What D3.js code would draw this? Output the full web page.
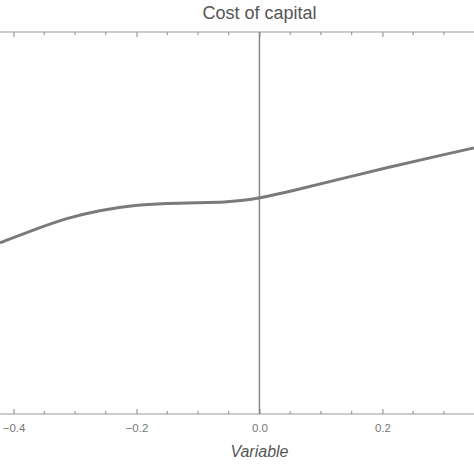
<!DOCTYPE html>
<html>
<head>
<meta charset="utf-8">
<script src="https://cdn.jsdelivr.net/npm/d3@7"></script>
<style>
  body { margin: 0; background: #fff; }
  svg { display: block; font-family: "Liberation Sans", Arial, sans-serif; }
</style>
</head>
<body>
<div id="chart"></div>
<script>
// curve
const xValues = [-0.422, -0.368, -0.313, -0.26, -0.206, -0.15, -0.097, -0.053, -0.032, 0.0, 0.05, 0.131, 0.212, 0.294, 0.349];
const costValues = [0.0669, 0.0689, 0.0708, 0.072, 0.0728, 0.0731, 0.0732, 0.0733, 0.0735, 0.0739, 0.07495, 0.0769, 0.0788, 0.0806, 0.0818];
const majorTicks = [-0.4, -0.2, 0.0, 0.2];
const minorTicks = [-0.4, -0.35, -0.3, -0.25, -0.2, -0.15, -0.1, -0.05, 0, 0.05, 0.1, 0.15, 0.2, 0.25, 0.3];

const W = 474, H = 474;
const plotTop = 32, plotBottom = 414;

const svg = d3.select("#chart").append("svg").attr("width", W).attr("height", H);

const x = d3.scaleLinear().domain([-0.422, 0.349]).range([0, W]);
const y = d3.scaleLinear().domain([0.04, 0.10]).range([plotBottom, plotTop]);

// frame top and bottom
const frameColor = "#999";
svg.append("line").attr("x1", 0).attr("x2", W).attr("y1", plotTop).attr("y2", plotTop)
  .attr("stroke", frameColor).attr("stroke-width", 1.2);
svg.append("line").attr("x1", 0).attr("x2", W).attr("y1", plotBottom).attr("y2", plotBottom)
  .attr("stroke", frameColor).attr("stroke-width", 1.2);

// minor ticks (inward) on both frames
const minors = minorTicks.filter(t => !majorTicks.some(m => Math.abs(m - t) < 1e-9));
svg.append("g").selectAll("line").data(minors).enter().append("line")
  .attr("x1", d => x(d)).attr("x2", d => x(d))
  .attr("y1", plotBottom).attr("y2", plotBottom - 3)
  .attr("stroke", frameColor).attr("stroke-width", 1.2);
svg.append("g").selectAll("line").data(minors).enter().append("line")
  .attr("x1", d => x(d)).attr("x2", d => x(d))
  .attr("y1", plotTop).attr("y2", plotTop + 3)
  .attr("stroke", frameColor).attr("stroke-width", 1.2);

// major ticks with labels
const xAxis = d3.axisBottom(x).tickValues(majorTicks).tickSizeInner(-5).tickSizeOuter(0)
  .tickPadding(10).tickFormat(d3.format(".1f"));
const gx = svg.append("g").attr("transform", `translate(0,${plotBottom})`).call(xAxis);
gx.select(".domain").remove();
gx.selectAll(".tick line").attr("stroke", frameColor).attr("stroke-width", 1.2);
gx.selectAll(".tick text").attr("fill", "#777").attr("font-size", 11.5);

const gxTop = svg.append("g").attr("transform", `translate(0,${plotTop})`)
  .call(d3.axisTop(x).tickValues(majorTicks).tickSizeInner(-5).tickSizeOuter(0).tickFormat(""));
gxTop.select(".domain").remove();
gxTop.selectAll(".tick line").attr("stroke", frameColor).attr("stroke-width", 1.2);

// vertical line at zero
svg.append("line").attr("x1", x(0)).attr("x2", x(0)).attr("y1", plotTop).attr("y2", plotBottom)
  .attr("stroke", "#888").attr("stroke-width", 1.5);

// curve
const data = xValues.map((v, i) => ({ x: v, y: costValues[i] }));
const line = d3.line().x(d => x(d.x)).y(d => y(d.y)).curve(d3.curveBasis);
svg.append("path").datum(data).attr("d", line)
  .attr("fill", "none").attr("stroke", "#7a7a7a").attr("stroke-width", 3);

// title and axis label
svg.append("text").attr("x", x(0)).attr("y", 19).attr("text-anchor", "middle")
  .attr("fill", "#555").attr("font-size", 18).text("Cost of capital");
svg.append("text").attr("x", x(0)).attr("y", 457).attr("text-anchor", "middle")
  .attr("fill", "#555").attr("font-size", 16).attr("font-style", "italic").text("Variable");
</script>
</body>
</html>
